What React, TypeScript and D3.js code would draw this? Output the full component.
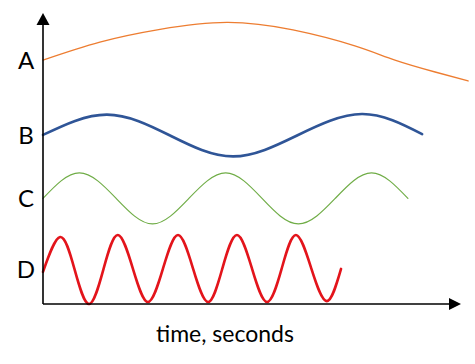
import React from 'react';
import * as d3 from 'd3';

// lane labels, top to bottom
const laneLabels = ['A', 'B', 'C', 'D'];
const laneLevels = [84.1, 58.3, 36.4, 12.2];

// signal A: slow wave (time, level)
const timeA = [0, 13.6, 28.0, 44.0, 59.8, 74.6, 84.2, 93.8, 101.7];
const levelA = [84.1, 90.3, 94.7, 97.1, 94.5, 89.0, 84.1, 80.0, 76.9];

// signal B
const timeB = [0, 15.3, 30.4, 45.5, 60.9, 76.3, 90.7];
const levelB = [58.3, 65.3, 58.1, 50.9, 58.2, 65.5, 58.6];

// signal C
const timeC = [0, 8.7, 17.5, 26.2, 34.9, 43.7, 52.4, 61.1, 69.9, 78.6, 87.3];
const levelC = [36.4, 45.2, 36.4, 27.6, 36.4, 45.2, 36.4, 27.6, 36.4, 45.2, 36.4];

// signal D: fast wave
const timeD = [0, 4.1, 7.5, 11.0, 14.5, 17.9, 21.5, 25.1, 28.7, 32.3, 35.9, 39.5, 42.9, 46.4, 50.0, 53.6, 57.1, 60.5, 64.2, 67.9, 71.3];
const levelD = [11.1, 23.1, 12.2, 0, 12.2, 23.8, 12.2, 0.7, 12.2, 23.8, 12.2, 0.7, 12.2, 23.8, 12.2, 0.7, 12.2, 23.8, 12.2, 1.0, 12.1];

const xLabel = 'time, seconds';

const W = 475;
const H = 364;

const SERIES = [
    { t: timeA, v: levelA, color: '#ed7d31', width: 1.3 },
    { t: timeB, v: levelB, color: '#2f5597', width: 2.6 },
    { t: timeC, v: levelC, color: '#70ad47', width: 1.2 },
    { t: timeD, v: levelD, color: '#e3141b', width: 2.6 },
];

export default function App() {
    const x = d3.scaleLinear().domain([0, 100]).range([43, 461]);
    const y = d3.scaleLinear().domain([0, 100]).range([304, 14]);

    const line = d3.line<[number, number]>()
        .x(d => x(d[0]))
        .y(d => y(d[1]))
        .curve(d3.curveNatural);

    const x0 = x(0), y0 = y(0), xEnd = x(100), yEnd = y(100);

    return (
        <div style={{ position: 'fixed', left: 0, top: 0, width: W, height: H, background: '#fff' }}>
            <svg width={W} height={H}>
                <rect width={W} height={H} fill="#fff" />
                {SERIES.map((s, i) => (
                    <path key={i}
                        d={line(s.t.map((t, j) => [t, s.v[j]] as [number, number])) || ''}
                        fill="none" stroke={s.color} strokeWidth={s.width} strokeLinecap="round" />
                ))}
                {/* axes */}
                <line x1={x0} y1={y0} x2={xEnd - 10} y2={y0} stroke="#000" strokeWidth={1.6} />
                <line x1={x0} y1={y0} x2={x0} y2={yEnd + 10} stroke="#000" strokeWidth={1.6} />
                <path d={`M${xEnd},${y0} L${xEnd - 12},${y0 - 6} L${xEnd - 12},${y0 + 6} Z`} fill="#000" />
                <path d={`M${x0},${yEnd - 1} L${x0 - 6.5},${yEnd + 11} L${x0 + 6.5},${yEnd + 11} Z`} fill="#000" />
                {laneLabels.map((l, i) => (
                    <text key={l} x={26} y={y(laneLevels[i]) + 9} textAnchor="middle"
                        fontFamily="Lato, 'Open Sans', sans-serif" fontSize={24} fill="#000">{l}</text>
                ))}
                <text x={225} y={342} textAnchor="middle" fontFamily="Lato, 'Open Sans', sans-serif"
                    fontSize={23} fill="#000">{xLabel}</text>
            </svg>
        </div>
    );
}
